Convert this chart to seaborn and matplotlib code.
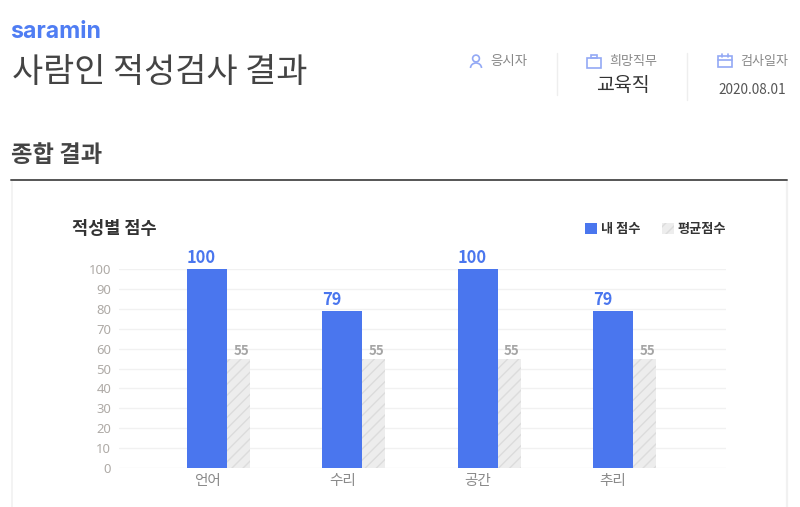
import matplotlib.pyplot as plt
from matplotlib.patches import Rectangle, Circle, Arc
import numpy as np
import seaborn as sns

categories = ['언어', '수리', '공간', '추리']
my_scores = [100, 79, 100, 79]
avg_scores = [55, 55, 55, 55]
y_ticks = [0, 10, 20, 30, 40, 50, 60, 70, 80, 90, 100]

BLUE = '#4a76ee'
ICON = '#93a9f5'
STEP = 135.3  # px between groups

sns.set_theme(style='white')
plt.rcParams['font.family'] = ['Noto Sans CJK KR', 'DejaVu Sans']
plt.rcParams['hatch.linewidth'] = 1.0

fig = plt.figure(figsize=(8, 5.07), dpi=100, facecolor='white')

# page layer in pixel coordinates for the header and the card
bg = fig.add_axes([0, 0, 1, 1])
bg.set_xlim(0, 800)
bg.set_ylim(507, 0)
bg.axis('off')

bg.plot([11.5, 11.5], [181, 507], color='#f1f1f1', lw=1.2)
bg.plot([786.5, 786.5], [181, 507], color='#f1f1f1', lw=1.6)
bg.plot([11, 787], [180, 180], color='#555555', lw=1.4)
bg.plot([556.5, 556.5], [53, 95], color='#eeeeee', lw=1)
bg.plot([686.5, 686.5], [53, 100], color='#eeeeee', lw=1)

bg.text(10.5, 32, 'saramin', color='#4f7df3', fontsize=16.6, family='Inter', weight='bold', va='center')
bg.text(12, 72.5, '사람인 적성검사 결과', color='#444444', fontsize=24.4, va='center')
bg.text(11, 154.5, '종합 결과', color='#444444', fontsize=16.8, weight='bold', va='center')
bg.text(72, 229, '적성별 점수', color='#333333', fontsize=12.6, weight='bold', va='center')

bg.text(490, 61, '응시자', color='#888888', fontsize=9.7, va='center')
bg.text(609, 61, '희망직무', color='#888888', fontsize=9.4, va='center')
bg.text(740, 61, '검사일자', color='#888888', fontsize=9.4, va='center')
bg.text(622.5, 85.5, '교육직', color='#333333', fontsize=14, ha='center', va='center')
bg.text(752, 89.5, '2020.08.01', color='#555555', fontsize=9.8, ha='center', va='center')

# header icons
bg.add_patch(Circle((476, 58.5), 3.4, fill=False, ec=ICON, lw=1.2))
bg.add_patch(Arc((476, 68), 11, 10, theta1=180, theta2=360, ec=ICON, lw=1.2))
bg.add_patch(Rectangle((587, 58), 14, 10, fill=False, ec=ICON, lw=1.2))
bg.add_patch(Rectangle((591, 55), 6, 3, fill=False, ec=ICON, lw=1.2))
bg.add_patch(Rectangle((718, 56), 14, 11, fill=False, ec=ICON, lw=1.2))
bg.plot([718, 732], [60, 60], color=ICON, lw=1.2)
bg.plot([722, 722], [54, 57], color=ICON, lw=1.2)
bg.plot([728, 728], [54, 57], color=ICON, lw=1.2)

# chart
ax = fig.add_axes([119 / 800, 1 - 468 / 507, 607 / 800, 199 / 507])
ax.set_facecolor('none')

blue_w = 40 / STEP
grey_w = 23 / STEP
sns.barplot(x=categories, y=my_scores, color=BLUE, saturation=1, width=blue_w, ax=ax,
            label='내 점수', linewidth=0)
pos = np.arange(len(categories))
ax.bar(pos + blue_w / 2, avg_scores, width=grey_w, align='edge', color='#ededed',
       edgecolor='#dcdcdc', hatch='///', linewidth=0, label='평균점수')

for i, (m, a) in enumerate(zip(my_scores, avg_scores)):
    ax.annotate(str(m), (i - blue_w / 2, m), xytext=(0, 1.5), textcoords='offset points',
                color=BLUE, fontsize=11.8, weight='bold', ha='left', va='bottom',
                annotation_clip=False)
    ax.annotate(str(a), (i + blue_w / 2 + grey_w, a), xytext=(-0.5, 0.3), textcoords='offset points',
                color='#a5a5a5', fontsize=9.5, weight='bold', ha='right', va='bottom',
                annotation_clip=False)

ax.set_xlim(-88 / STEP, 519 / STEP)
ax.set_ylim(0, 100)
ax.set_yticks(y_ticks)
ax.set_axisbelow(True)
ax.grid(axis='y', color='#f1f1f1', lw=1)
ax.tick_params(axis='both', length=0)
ax.tick_params(axis='y', pad=5.5, labelsize=9.4, labelcolor='#aeaaa6')
ax.tick_params(axis='x', pad=4.5, labelsize=10.5, labelcolor='#8a8a8a')
for t in ax.get_yticklabels():
    t.set_family('Noto Sans')
sns.despine(ax=ax, left=True, bottom=True)
ax.set_xlabel('')
ax.set_ylabel('')

leg = ax.legend(loc='lower right', bbox_to_anchor=(1.0, 1.165), ncol=2, frameon=False,
                handlelength=0.91, handleheight=0.91, handletextpad=0.3, columnspacing=1.6,
                borderpad=0, borderaxespad=0, labelcolor='#333333', prop={'weight': 'bold', 'size': 9.5})

fig.savefig('out.png', dpi=100)
